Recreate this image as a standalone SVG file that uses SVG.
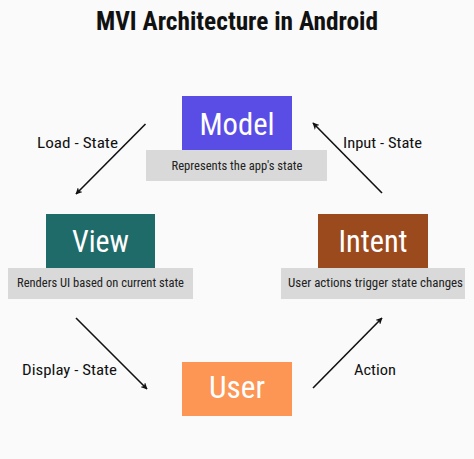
<svg xmlns="http://www.w3.org/2000/svg" width="474" height="459" viewBox="0 0 474 459">
<defs>
<style>
text{font-family:"Roboto Condensed",Roboto,"Liberation Sans",sans-serif}
.t{font-size:25px;font-weight:bold;fill:#111}
.n{font-size:32px;fill:#fff;text-anchor:middle}
.d{font-size:13px;fill:#222;text-anchor:middle}
.e{font-size:15.5px;fill:#111}
.lb{fill:#d9d9d9}
.c{stroke:#111;stroke-width:1.6;fill:none;marker-end:url(#ah)}
</style>
<marker id="ah" viewBox="0 0 10 10" refX="9" refY="5" markerWidth="7" markerHeight="7" markerUnits="userSpaceOnUse" orient="auto">
<path d="M0,0 L10,5 L0,10 L3,5 Z" fill="#111"/>
</marker>
</defs>
<rect width="474" height="459" fill="#fafafa"/>
<text class="t" x="96" y="29.5" textLength="282" lengthAdjust="spacingAndGlyphs">MVI Architecture in Android</text>
<g id="model">
<rect x="182" y="96" width="110" height="54" fill="#5a4de6"/>
<text class="n" x="237" y="135" textLength="75" lengthAdjust="spacingAndGlyphs">Model</text>
<rect class="lb" x="146" y="150" width="181" height="31"/>
<text class="d" x="237" y="170" textLength="131" lengthAdjust="spacingAndGlyphs">Represents the app's state</text>
</g>
<g id="view">
<rect x="46" y="214" width="109" height="54" fill="#1e6b69"/>
<text class="n" x="100.5" y="252" textLength="57" lengthAdjust="spacingAndGlyphs">View</text>
<rect class="lb" x="8" y="268" width="185" height="31"/>
<text class="d" x="100.5" y="287" textLength="167" lengthAdjust="spacingAndGlyphs">Renders UI based on current state</text>
</g>
<g id="intent">
<rect x="318" y="214" width="110" height="54" fill="#9b4a1e"/>
<text class="n" x="373" y="252" textLength="69" lengthAdjust="spacingAndGlyphs">Intent</text>
<rect class="lb" x="281" y="268" width="184" height="31"/>
<text class="d" x="375.5" y="287" textLength="175" lengthAdjust="spacingAndGlyphs">User actions trigger state changes</text>
</g>
<g id="user">
<rect x="182" y="362" width="110" height="54" fill="#fd9555"/>
<text class="n" x="237" y="398" textLength="56" lengthAdjust="spacingAndGlyphs">User</text>
</g>
<g id="connectors">
<line class="c" x1="145.5" y1="124" x2="76" y2="194"/>
<line class="c" x1="382" y1="193" x2="313" y2="123"/>
<line class="c" x1="76" y1="318" x2="147" y2="389"/>
<line class="c" x1="313" y1="388" x2="382" y2="318"/>
<text class="e" x="37" y="148" textLength="81" lengthAdjust="spacingAndGlyphs">Load - State</text>
<text class="e" x="343" y="148" textLength="79" lengthAdjust="spacingAndGlyphs">Input - State</text>
<text class="e" x="22" y="375" textLength="95" lengthAdjust="spacingAndGlyphs">Display - State</text>
<text class="e" x="354" y="375" textLength="42" lengthAdjust="spacingAndGlyphs">Action</text>
</g>
</svg>
